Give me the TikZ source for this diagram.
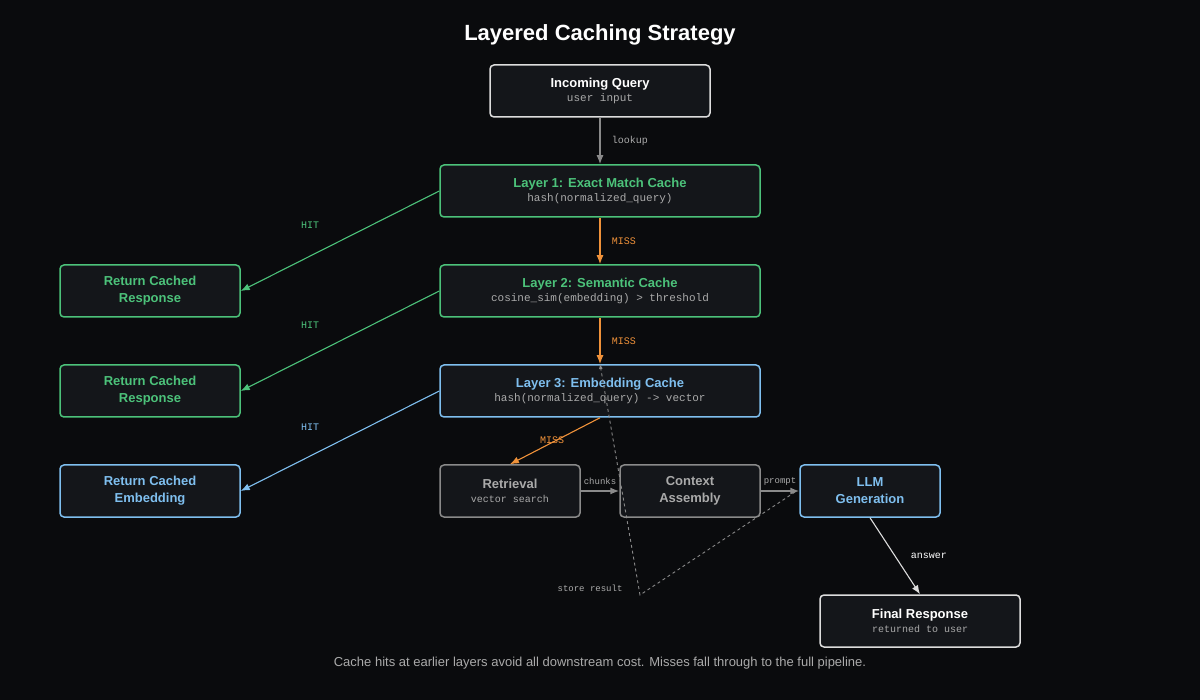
\documentclass[tikz,border=0pt]{standalone}
\usepackage{fontspec}
\setmainfont{Liberation Sans}
\setmonofont{Liberation Mono}
\usetikzlibrary{arrows.meta}
\definecolor{bg}{HTML}{0A0B0D}
\definecolor{nfill}{HTML}{14161A}
\definecolor{cgreen}{HTML}{4CC27A}
\definecolor{cblue}{HTML}{7FBFEF}
\definecolor{corange}{HTML}{F0923A}
\definecolor{cgray}{HTML}{8A8A8A}
\definecolor{cwhite}{HTML}{DDDDDD}
\definecolor{csub}{HTML}{AAAAAA}
\newcommand{\ttlf}{\fontsize{13}{16}\selectfont\bfseries}
\tikzset{
 box/.style={draw, fill=nfill, rounded corners=4pt, line width=1.5pt, minimum height=52pt, align=center, inner sep=0pt},
 ttl/.style={font=\ttlf},
 arr/.style={line width=1.3pt, -{Latex[length=9pt,width=7pt]}},
 lbl/.style={font=\ttfamily\fontsize{10}{12}\selectfont},
}
\newcommand{\sub}[1]{{\color{csub}\ttfamily\fontsize{11}{14}\selectfont #1}}
\begin{document}
\begin{tikzpicture}[x=1pt,y=-1pt]
\fill[bg] (0,0) rectangle (1200,700);
\useasboundingbox (0,0) rectangle (1200,700);
\node[text=white, font=\fontsize{22}{26}\selectfont\bfseries] (title) at (600,35) {Layered Caching Strategy};
\node[box, draw=cwhite, minimum width=220pt] (q) at (600,91) {{\ttlf\color{white}Incoming Query}\\[2pt]\sub{user input}};
\node[box, draw=cgreen, minimum width=320pt] (l1) at (600,191) {{\ttlf\color{cgreen}Layer 1: Exact Match Cache}\\[2pt]\sub{hash(normalized\_query)}};
\node[box, draw=cgreen, minimum width=320pt] (l2) at (600,291) {{\ttlf\color{cgreen}Layer 2: Semantic Cache}\\[2pt]\sub{cosine\_sim(embedding) > threshold}};
\node[box, draw=cblue, minimum width=320pt] (l3) at (600,391) {{\ttlf\color{cblue}Layer 3: Embedding Cache}\\[2pt]\sub{hash(normalized\_query) -> vector}};
\node[box, draw=cgreen, minimum width=180pt, ttl, text=cgreen] (r1) at (150,291) {Return Cached\\[1pt]Response};
\node[box, draw=cgreen, minimum width=180pt, ttl, text=cgreen] (r2) at (150,391) {Return Cached\\[1pt]Response};
\node[box, draw=cblue, minimum width=180pt, ttl, text=cblue] (r3) at (150,491) {Return Cached\\[1pt]Embedding};
\node[box, draw=cgray, minimum width=140pt] (ret) at (510,491) {{\ttlf\color{csub}Retrieval}\\[2pt]{\color{csub}\ttfamily\fontsize{10}{12}\selectfont vector search}};
\node[box, draw=cgray, minimum width=140pt, ttl, text=csub] (ctx) at (690,491) {Context\\[1pt]Assembly};
\node[box, draw=cblue, minimum width=140pt, ttl, text=cblue] (llm) at (870,491) {LLM\\[1pt]Generation};
\node[box, draw=cwhite, minimum width=200pt] (fin) at (920,621) {{\ttlf\color{white}Final Response}\\[2pt]{\color{csub}\ttfamily\fontsize{10}{12}\selectfont returned to user}};
\draw[arr, cgray] (q) -- (l1) node[midway, right=8pt, lbl, text=csub] {lookup};
\draw[arr, corange] (l1) -- (l2) node[midway, right=8pt, lbl] {MISS};
\draw[arr, corange] (l2) -- (l3) node[midway, right=8pt, lbl] {MISS};
\draw[arr, cgreen, line width=1.1pt] (l1.west) -- (r1.east);
\draw[arr, cgreen, line width=1.1pt] (l2.west) -- (r2.east);
\draw[arr, cblue, line width=1.1pt] (l3.west) -- (r3.east);
\node[lbl, text=cgreen] (h1) at (310,225) {HIT};
\node[lbl, text=cgreen] (h2) at (310,325) {HIT};
\node[lbl, text=cblue] (h3) at (310,427) {HIT};
\draw[arr, corange, line width=1.1pt] (l3.south) -- (ret.north);
\node[lbl, text=corange] (m3) at (552,440) {MISS};
\draw[arr, cgray] (ret) -- (ctx) node[midway, above=2pt, font=\ttfamily\fontsize{9}{11}\selectfont, text=csub] {chunks};
\draw[arr, cgray] (ctx) -- (llm) node[midway, above=2pt, font=\ttfamily\fontsize{9}{11}\selectfont, text=csub] {prompt};
\draw[arr, cwhite, line width=1.1pt] (llm.south) -- (fin.north) node[midway, right=12pt, lbl, text=white] {answer};
\coordinate (sr) at (640,595);
\coordinate (top) at (600,364);
\draw[cgray, dashed, line width=0.9pt, -{Latex[length=5pt,width=4pt]}] (795,492) -- (sr) -- (top);
\node[font=\ttfamily\fontsize{9}{11}\selectfont, text=csub] (srl) at (590,588) {store result};
\node[text=csub, font=\fontsize{13}{16}\selectfont] (foot) at (600,663) {Cache hits at earlier layers avoid all downstream cost. Misses fall through to the full pipeline.};
\end{tikzpicture}
\end{document}
